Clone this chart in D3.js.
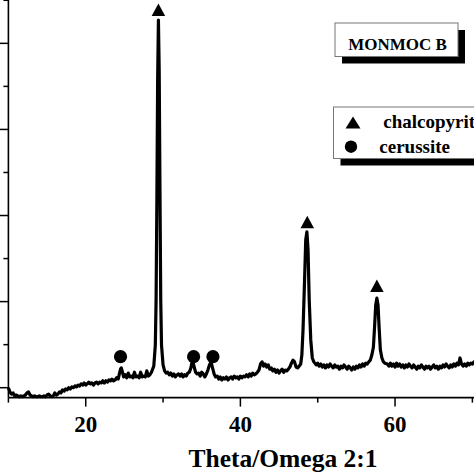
<!DOCTYPE html>
<html>
<head>
<meta charset="utf-8">
<script src="https://cdn.jsdelivr.net/npm/d3@7"></script>
<style>
  body { margin: 0; background: #fff; }
  text { font-family: "Liberation Serif", "Times New Roman", serif; font-weight: bold; }
</style>
</head>
<body>
<div id="chartDiv"></div>
<script>
var width = 474;
var height = 474;

// 2theta (deg), intensity (counts)
var scan = [
  [10.0, 0], [10.2, -50], [10.4, -75], [10.6, -60], [10.8, -95], [11.0, -85], [11.2, -95], [11.4, -105],
  [11.6, -95], [11.8, -105], [12.0, -95], [12.2, -85], [12.4, -60], [12.6, -50], [12.8, -85], [13.0, -95],
  [13.2, -105], [13.4, -95], [13.6, -105], [13.8, -105], [14.0, -95], [14.2, -105], [14.4, -105], [14.6, -95],
  [14.8, -105], [15.0, -85], [15.2, -75], [15.4, -95], [15.6, -105], [15.8, -95], [16.0, -60], [16.2, -85],
  [16.4, -75], [16.6, -50], [16.8, -60], [17.0, -25], [17.2, -40], [17.4, -15], [17.6, -25], [17.8, 0],
  [18.0, -15], [18.2, 10], [18.4, 0], [18.6, 20], [18.8, 10], [19.0, 30], [19.2, 20], [19.4, 45],
  [19.6, 30], [19.8, 55], [20.0, 30], [20.2, 45], [20.4, 65], [20.6, 45], [20.8, 55], [21.0, 30],
  [21.2, 55], [21.4, 65], [21.6, 45], [21.8, 65], [22.0, 55], [22.2, 80], [22.4, 55], [22.6, 80],
  [22.8, 65], [23.0, 90], [23.2, 80], [23.4, 100], [23.6, 80], [23.8, 90], [24.0, 115], [24.2, 100],
  [24.35, 160], [24.5, 215], [24.6, 230], [24.75, 180], [24.9, 125], [25.1, 150], [25.3, 115], [25.5, 170],
  [25.7, 125], [25.9, 135], [26.1, 115], [26.3, 180], [26.5, 125], [26.7, 135], [26.9, 115], [27.1, 180],
  [27.3, 125], [27.5, 135], [27.7, 125], [27.9, 195], [28.1, 135], [28.3, 150], [28.5, 180], [28.8, 250],
  [29.0, 495], [29.1, 1020], [29.2, 2175], [29.3, 3570], [29.4, 4270], [29.5, 3690], [29.6, 2295], [29.7, 1020],
  [29.8, 495], [30.0, 265], [30.2, 195], [30.4, 170], [30.6, 180], [30.8, 150], [31.0, 170], [31.2, 135],
  [31.4, 160], [31.6, 125], [31.8, 150], [32.0, 160], [32.2, 135], [32.4, 160], [32.6, 125], [32.8, 150],
  [33.0, 135], [33.2, 170], [33.4, 180], [33.6, 230], [33.8, 320], [34.0, 250], [34.2, 180], [34.4, 160],
  [34.6, 170], [34.8, 135], [35.0, 180], [35.2, 160], [35.4, 125], [35.6, 160], [35.8, 205], [36.0, 265],
  [36.2, 300], [36.4, 230], [36.6, 160], [36.8, 125], [37.0, 135], [37.2, 100], [37.4, 125], [37.6, 90],
  [37.8, 115], [38.0, 100], [38.2, 125], [38.4, 90], [38.6, 115], [38.8, 125], [39.0, 100], [39.2, 135],
  [39.4, 115], [39.6, 125], [39.8, 100], [40.0, 135], [40.2, 115], [40.4, 135], [40.6, 125], [40.8, 150],
  [41.0, 125], [41.2, 160], [41.4, 135], [41.6, 170], [41.8, 150], [42.0, 160], [42.2, 180], [42.4, 205],
  [42.6, 275], [42.8, 300], [43.0, 250], [43.2, 275], [43.4, 240], [43.6, 265], [43.8, 215], [44.0, 230],
  [44.2, 195], [44.4, 215], [44.6, 180], [44.8, 205], [45.0, 170], [45.2, 195], [45.4, 215], [45.6, 180],
  [45.8, 205], [46.0, 195], [46.2, 215], [46.4, 240], [46.6, 285], [46.8, 320], [47.0, 300], [47.2, 240],
  [47.4, 230], [47.6, 250], [47.8, 275], [47.95, 380], [48.1, 670], [48.3, 1250], [48.45, 1715], [48.6, 1810],
  [48.75, 1600], [48.9, 1020], [49.1, 555], [49.3, 345], [49.5, 300], [49.8, 265], [50.0, 285], [50.2, 250],
  [50.4, 275], [50.6, 240], [50.8, 265], [51.0, 230], [51.2, 265], [51.4, 240], [51.6, 275], [51.8, 250],
  [52.0, 230], [52.2, 265], [52.4, 240], [52.6, 250], [52.8, 215], [53.0, 250], [53.2, 230], [53.4, 265],
  [53.6, 240], [53.8, 215], [54.0, 250], [54.2, 230], [54.4, 205], [54.6, 240], [54.8, 215], [55.0, 250],
  [55.2, 230], [55.4, 265], [55.6, 240], [55.8, 275], [56.0, 250], [56.2, 285], [56.4, 275], [56.6, 300],
  [56.8, 320], [57.0, 380], [57.2, 470], [57.35, 700], [57.5, 960], [57.65, 1040], [57.8, 960], [57.95, 680],
  [58.1, 440], [58.3, 345], [58.5, 300], [58.7, 285], [59.0, 275], [59.2, 250], [59.4, 285], [59.6, 250],
  [59.8, 275], [60.0, 240], [60.2, 285], [60.4, 250], [60.6, 275], [60.8, 240], [61.0, 265], [61.2, 230],
  [61.4, 265], [61.6, 240], [61.8, 275], [62.0, 250], [62.2, 230], [62.4, 265], [62.6, 240], [62.8, 215],
  [63.0, 250], [63.2, 230], [63.4, 265], [63.6, 240], [63.8, 215], [64.0, 250], [64.2, 230], [64.4, 250],
  [64.6, 215], [64.8, 240], [65.0, 265], [65.2, 230], [65.4, 250], [65.6, 215], [65.8, 250], [66.0, 230],
  [66.2, 265], [66.4, 240], [66.6, 275], [66.8, 250], [67.0, 230], [67.2, 265], [67.4, 240], [67.6, 275],
  [67.8, 250], [68.0, 285], [68.2, 265], [68.4, 345], [68.6, 275], [68.8, 250], [69.0, 275], [69.2, 250],
  [69.4, 285], [69.6, 265], [69.8, 285], [70.0, 275], [70.2, 300], [70.4, 275], [70.6, 285], [71.0, 275],
  [71.5, 300], [72.0, 285]
];

// phase markers: [2theta, marker height in counts]
var chalcopyriteMarks = [[29.4, 4390], [48.65, 1925], [57.65, 1185]];
var cerussiteMarks = [[24.5, 360], [33.95, 360], [36.45, 360]];

var xMajor = [20, 40, 60, 80];
var xMinor = [10, 30, 50, 70];
var xLabels = [20, 40, 60];
var yMajor = [0, 1000, 2000, 3000, 4000];
var yMinor = [500, 1500, 2500, 3500, 4500];

var sampleName = 'MONMOC B';
var legendItems = ['chalcopyrite', 'cerussite'];
var xTitle = 'Theta/Omega 2:1';

var x = d3.scaleLinear().domain([10, 80]).range([8.4, 549.7]);
var y = d3.scaleLinear().domain([-115, 4500]).range([397.6, 0.3]);

var svg = d3.select('#chartDiv').append('svg')
  .attr('width', width)
  .attr('height', height);

// ticks (outward)
var bottomY = y(-115);
var leftX = x(10);

svg.selectAll('.xmaj').data(xMajor).enter().append('line')
  .attr('x1', function(d) { return x(d) }).attr('x2', function(d) { return x(d) })
  .attr('y1', bottomY).attr('y2', bottomY + 9)
  .attr('stroke', '#000').attr('stroke-width', 1.5);
svg.selectAll('.xmin').data(xMinor).enter().append('line')
  .attr('x1', function(d) { return x(d) }).attr('x2', function(d) { return x(d) })
  .attr('y1', bottomY).attr('y2', bottomY + 5)
  .attr('stroke', '#000').attr('stroke-width', 1.5);
svg.selectAll('.ymaj').data(yMajor).enter().append('line')
  .attr('y1', function(d) { return y(d) }).attr('y2', function(d) { return y(d) })
  .attr('x1', leftX).attr('x2', leftX - 9)
  .attr('stroke', '#000').attr('stroke-width', 1.5);
svg.selectAll('.ymin').data(yMinor).enter().append('line')
  .attr('y1', function(d) { return y(d) }).attr('y2', function(d) { return y(d) })
  .attr('x1', leftX).attr('x2', leftX - 5)
  .attr('stroke', '#000').attr('stroke-width', 1.5);

svg.selectAll('.xlab').data(xLabels).enter().append('text')
  .attr('x', function(d) { return x(d) })
  .attr('y', 431.5)
  .attr('text-anchor', 'middle')
  .style('font-size', '23px')
  .text(function(d) { return d });

svg.append('text')
  .attr('x', 283)
  .attr('y', 466.7)
  .attr('text-anchor', 'middle')
  .style('font-size', '25.5px')
  .text(xTitle);

// scan trace
var line = d3.line()
  .x(function(d) { return x(d[0]) })
  .y(function(d) { return y(d[1]) });

svg.append('path')
  .datum(scan)
  .attr('d', line)
  .attr('fill', 'none')
  .attr('stroke', '#000')
  .attr('stroke-width', 3.2)
  .attr('stroke-linejoin', 'round');

// spines
svg.append('line').attr('x1', leftX).attr('x2', leftX).attr('y1', 0).attr('y2', bottomY)
  .attr('stroke', '#000').attr('stroke-width', 1.6);
svg.append('line').attr('x1', leftX).attr('x2', width).attr('y1', bottomY).attr('y2', bottomY)
  .attr('stroke', '#000').attr('stroke-width', 1.6);

var triPath = function(w, h) {
  return 'M0,' + (-h / 2) + 'L' + (w / 2) + ',' + (h / 2) + 'L' + (-w / 2) + ',' + (h / 2) + 'Z';
}

svg.selectAll('.tri').data(chalcopyriteMarks).enter().append('path')
  .attr('transform', function(d) { return 'translate(' + x(d[0]) + ',' + y(d[1]) + ')' })
  .attr('d', triPath(13.5, 12.5))
  .attr('fill', '#000');

svg.selectAll('.dot').data(cerussiteMarks).enter().append('circle')
  .attr('cx', function(d) { return x(d[0]) })
  .attr('cy', function(d) { return y(d[1]) })
  .attr('r', 6.6)
  .attr('fill', '#000');

// sample name box
svg.append('rect').attr('x', 342).attr('y', 30).attr('width', 123).attr('height', 33.5).attr('fill', '#000');
svg.append('rect').attr('x', 335).attr('y', 23).attr('width', 123).attr('height', 33.5)
  .attr('fill', '#fff').attr('stroke', '#777').attr('stroke-width', 1);
svg.append('text')
  .attr('x', 397.5).attr('y', 49.7)
  .attr('text-anchor', 'middle')
  .style('font-size', '17px')
  .text(sampleName);

// legend box
svg.append('rect').attr('x', 340.5).attr('y', 114).attr('width', 170).attr('height', 51.5).attr('fill', '#000');
svg.append('rect').attr('x', 333.5).attr('y', 107).attr('width', 170).attr('height', 51.5)
  .attr('fill', '#fff').attr('stroke', '#777').attr('stroke-width', 1);
svg.append('path')
  .attr('transform', 'translate(353,122.5)')
  .attr('d', triPath(15, 12))
  .attr('fill', '#000');
svg.append('circle').attr('cx', 351).attr('cy', 146.7).attr('r', 6.2).attr('fill', '#000');
svg.append('text').attr('x', 383.3).attr('y', 128.3).style('font-size', '19px').text(legendItems[0]);
svg.append('text').attr('x', 379.3).attr('y', 153.3).style('font-size', '19px').text(legendItems[1]);
</script>
</body>
</html>
